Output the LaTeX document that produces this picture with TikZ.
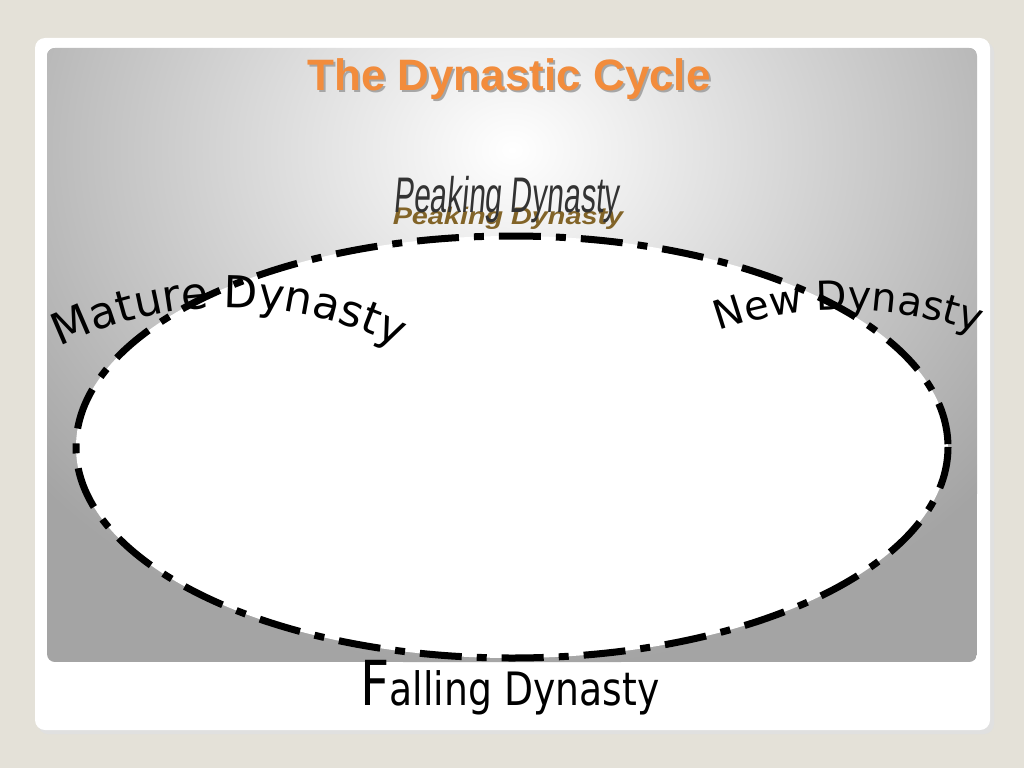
\documentclass[tikz,border=0pt]{standalone}
\usepackage{fontspec}
\setmainfont{DejaVu Sans}
\newfontfamily\titlefont{Liberation Sans}
\newfontfamily\narrowfont{Liberation Sans}
\usetikzlibrary{decorations.text,shadings}
\definecolor{bg}{HTML}{E4E1D8}
\definecolor{orng}{HTML}{F28C3C}
\definecolor{gout}{HTML}{A4A4A4}
\tikzset{
  curvetext/.style={decorate,decoration={text along path,text align=center,text={#1}}},
}
\begin{document}
\begin{tikzpicture}[x=1pt,y=-1pt]
\useasboundingbox (0,0) rectangle (1024,768);
\fill[bg] (0,0) rectangle (1024,768);
\fill[black!12,rounded corners=10pt] (38,42) rectangle (994,734);
\fill[white,rounded corners=10pt] (35,38) rectangle (990,730);
\begin{scope}
\clip[rounded corners=8pt] (47,48) rectangle (977,662);
\fill[gout] (47,48) rectangle (977,662);
\shade[inner color=white,outer color=gout] (512,150) ellipse[x radius=620,y radius=520];
\end{scope}
\node[font=\titlefont\bfseries\fontsize{44}{46}\selectfont,text=black!35] (ts) at (511,81) {The Dynastic Cycle};
\node[font=\titlefont\bfseries\fontsize{44}{46}\selectfont,text=orng] (title) at (509,79) {The Dynastic Cycle};
\draw[line width=7pt,fill=white,dash pattern=on 42pt off 15pt on 10pt off 15pt] (512,447) ellipse[x radius=436,y radius=211];
\node[font=\narrowfont\bfseries\itshape\fontsize{40}{42}\selectfont,text={rgb,255:red,130;green,100;blue,40},xscale=0.72,yscale=0.6] (pks) at (508,218) {Peaking Dynasty};
\node[font=\narrowfont\fontsize{50}{52}\selectfont,text=black!80,xscale=0.6,xslant=0.15] (pk) at (507,200) {Peaking Dynasty};
\path[curvetext={|\fontsize{44}{46}\selectfont|Mature Dynasty}] (50,352) .. controls (170,290) and (300,295) .. (408,352);
\path[curvetext={|\fontsize{40}{42}\selectfont|New Dynasty}] (702,338) .. controls (790,300) and (900,300) .. (995,340);
\node[font=\fontsize{46}{48}\selectfont,xscale=0.82,anchor=base] (fall) at (510,705) {{\fontsize{62}{62}\selectfont F}alling Dynasty};
\end{tikzpicture}
\end{document}
